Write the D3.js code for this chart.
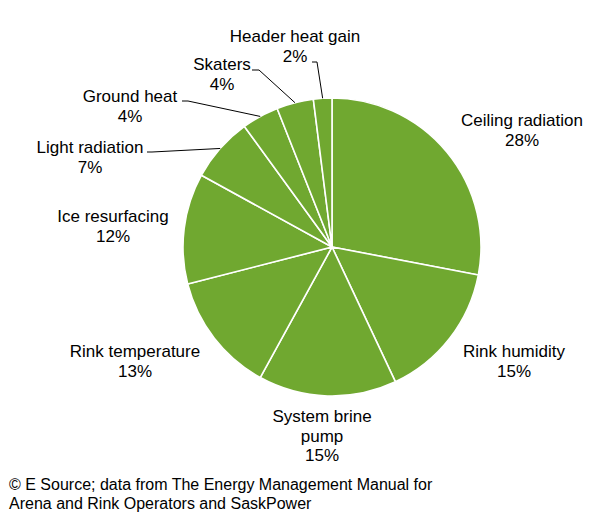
<!DOCTYPE html>
<html>
<head>
<meta charset="utf-8">
<script src="https://cdn.jsdelivr.net/npm/d3@7"></script>
<style>
  body { margin: 0; background: #fff; }
  text { font-family: "Liberation Sans", Arial, sans-serif; font-size: 17px; fill: #000; }
  text.source { font-size: 16px; }
</style>
</head>
<body>
<script>
// Data: heat load shares, clockwise from 12 o'clock
var categories = ["Ceiling radiation", "Rink humidity", "System brine pump", "Rink temperature",
                  "Ice resurfacing", "Light radiation", "Ground heat", "Skaters", "Header heat gain"];
var shares = [28, 15, 15, 13, 12, 7, 4, 4, 2];
// how each category name is broken into lines
var labelLines = [["Ceiling radiation"], ["Rink humidity"], ["System brine", "pump"], ["Rink temperature"],
                  ["Ice resurfacing"], ["Light radiation"], ["Ground heat"], ["Skaters"], ["Header heat gain"]];
var sourceLines = ["\u00a9 E Source; data from The Energy Management Manual for",
                   "Arena and Rink Operators and SaskPower"];

// Layout
var w = 600, h = 522;
var cx = 332, cy = 247, r = 149;
var lineH = 19.5;
// label anchor (centre x, first baseline y) and optional leader start, per slice
var labelPos = [
  {x: 522, y: 126},
  {x: 514, y: 357},
  {x: 322, y: 422},
  {x: 135, y: 357},
  {x: 113, y: 222},
  {x: 90,  y: 153, lead: [[147, 152], [152, 152]]},
  {x: 130, y: 102, lead: [[182, 101], [188, 101]]},
  {x: 222, y: 70,  lead: [[252, 70], [259, 70]]},
  {x: 295, y: 42,  lead: [[312, 62], [317, 62]]}
];

var svg = d3.select("body").append("svg")
            .attr("width", w)
            .attr("height", h);

var pie = d3.pie().sort(null).value(d => d);
var arcs = pie(shares);

var arc = d3.arc().innerRadius(0).outerRadius(r);
var edge = d3.arc().innerRadius(r).outerRadius(r);

var graph = svg.append("g")
               .attr("transform", `translate(${cx}, ${cy})`);

graph.selectAll("path")
     .data(arcs)
     .enter()
     .append("path")
     .attr("d", arc)
     .attr("fill", "#70a830")
     .attr("stroke", "#fff")
     .attr("stroke-width", 1.6)
     .attr("stroke-linejoin", "round");

// leader lines from label to slice edge
var line = d3.line();
arcs.forEach(function(a, i){
  var p = labelPos[i];
  if (!p.lead) return;
  var c = edge.centroid(a);
  var pts = p.lead.concat([[cx + c[0], cy + c[1]]]);
  svg.append("path")
     .attr("d", line(pts))
     .attr("fill", "none")
     .attr("stroke", "#000")
     .attr("stroke-width", 1);
});

// labels
arcs.forEach(function(a, i){
  var p = labelPos[i];
  var lines = labelLines[i].concat([shares[i] + "%"]);
  var t = svg.append("text")
             .attr("text-anchor", "middle");
  lines.forEach(function(s, k){
    t.append("tspan")
     .attr("x", p.x)
     .attr("y", p.y + k * lineH)
     .text(s);
  });
});

// source note
var src = svg.append("text").attr("class", "source");
sourceLines.forEach(function(s, k){
  src.append("tspan")
     .attr("x", 9)
     .attr("y", 490 + k * 18.5)
     .text(s);
});
</script>
</body>
</html>
